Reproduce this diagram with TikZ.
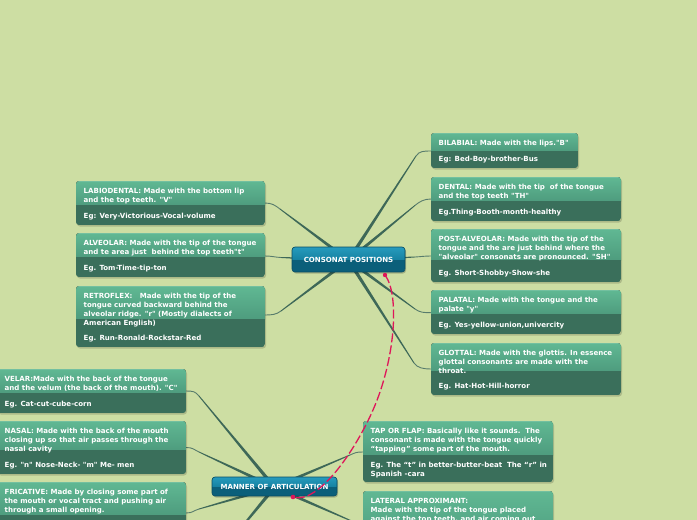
\documentclass[tikz,border=0pt]{standalone}
\usepackage{fontspec}
\setmainfont{DejaVu Sans}
\usetikzlibrary{calc}
\newcommand\qd{\textquotedbl}
\definecolor{bgc}{RGB}{205,222,163}
\definecolor{cardtop}{RGB}{96,184,147}
\definecolor{cardmid}{RGB}{78,156,126}
\definecolor{carddark}{RGB}{58,111,91}
\definecolor{topiclight}{RGB}{38,155,189}
\definecolor{topicmid}{RGB}{22,130,162}
\definecolor{topicdark}{RGB}{11,95,122}
\definecolor{topicborder}{RGB}{8,76,100}
\definecolor{branchc}{RGB}{62,104,88}
\definecolor{twigc}{RGB}{88,124,108}
\definecolor{linkc}{RGB}{222,22,90}
\pgfdeclarelayer{bg}\pgfdeclarelayer{conn}\pgfsetlayers{bg,conn,main}
\tikzset{
 cardtxt/.style={font=\fontsize{7.05}{8.8}\selectfont\bfseries, text=white, inner sep=0pt, align=left},
 topictxt/.style={font=\fontsize{7.05}{8.8}\selectfont\bfseries, text=white, inner sep=0pt},
 branch/.style={fill=branchc},
 twig/.style={draw=twigc, line width=0.9pt},
 linkline/.style={draw=linkc, line width=1.3pt, dash pattern=on 9pt off 3pt},
 cardshadow/.style={fill=black, opacity=0.16},
}
% #1 name #2 x1 #3 y1 #4 x2 #5 ysplit #6 y2 #7 top text #8 bottom text
\newcommand\card[8]{%
 \fill[cardshadow, rounded corners=3pt] ({#2+1},{#3+1.5}) rectangle ({#4+1},{#6+1.5});
 \begin{scope}
  \clip[rounded corners=3pt] (#2,#3) rectangle (#4,#6);
  \fill[top color=cardtop, bottom color=cardmid] (#2,#3) rectangle (#4,#5);
  \fill[carddark] (#2,#5) rectangle (#4,#6);
  \fill[white, opacity=0.12] (#2,#3) rectangle (#4,{#3+1});
 \end{scope}
 \node[cardtxt, anchor=north west] (#1-top) at ({#2+7.5},{#3+7.2}) {#7};
 \node[cardtxt, anchor=base west] (#1-eg) at ({#2+7.5},{#6-6.5}) {#8};
}
% #1 name #2 x1 #3 y1 #4 x2 #5 y2 #6 text
\newcommand\topic[6]{%
 \fill[black, opacity=0.2, rounded corners=3pt] ({#2+1},{#3+1.5}) rectangle ({#4+1},{#5+1.5});
 \begin{scope}
  \clip[rounded corners=3pt] (#2,#3) rectangle (#4,#5);
  \fill[top color=topiclight, bottom color=topicmid] (#2,#3) rectangle (#4,{(#3+#5)/2});
  \fill[topicdark] (#2,{(#3+#5)/2}) rectangle (#4,#5);
 \end{scope}
 \draw[topicborder, rounded corners=3pt, line width=0.6pt] (#2,#3) rectangle (#4,#5);
 \node[topictxt] (#1) at ({(#2+#4)/2},{(#3+#5)/2+0.8}) {#6};
}
\newcommand\taper[4]{%
 \fill[branch] ($(#1)!#3!90:(#2)$) -- ($(#2)!#4!-90:(#1)$) -- ($(#2)!#4!90:(#1)$) -- ($(#1)!#3!-90:(#2)$) -- cycle;}
% #1 from node #2 name #3 bend point #4 attach point #5 ctrl offset
\newcommand\branchto[5]{%
 \coordinate (#2-p) at (#3); \coordinate (#2-in) at (#4);
 \taper{#1.center}{#2-p}{1.8pt}{0.45pt}
 \draw[twig] (#2-p) .. controls ($(#2-p)!-6pt!(#1.center)$) and ($(#2-in)+(#5,0)$) .. (#2-in);
}
\begin{document}
\begin{tikzpicture}[x=1pt,y=-1pt]
\useasboundingbox (0,0) rectangle (697,520);
\begin{pgfonlayer}{bg}
\fill[bgc] (0,0) rectangle (697,520);
\end{pgfonlayer}

% topics
\topic{cp}{292}{247}{405}{272}{CONSONAT POSITIONS}
\topic{moa}{212}{477}{337}{496}{MANNER OF ARTICULATION}

% right cards
\card{bilabial}{431}{133}{578}{151}{168}{BILABIAL: Made with the lips.\qd B\qd}{Eg: Bed-Boy-brother-Bus}
\card{dental}{431}{177}{621}{201}{221}{DENTAL: Made with the tip\ \ of the tongue\\and the top teeth \qd TH\qd}{Eg.Thing-Booth-month-healthy}
\card{postalv}{431}{229}{621}{260}{282}{POST-ALVEOLAR: Made with the tip of the\\tongue and the are just behind where the\\\qd alveolar\qd{} consonats are pronounced. \qd SH\qd}{Eg. Short-Shobby-Show-she}
\card{palatal}{431}{290}{621}{314}{334}{PALATAL: Made with the tongue and the\\palate \qd y\qd}{Eg. Yes-yellow-union,univercity}
\card{glottal}{431}{343}{621}{371}{395}{GLOTTAL: Made with the glottis. In essence\\glottal consonants are made with the\\throat.}{Eg. Hat-Hot-Hill-horror}

% left cards
\card{labio}{76}{181}{265}{205}{225}{LABIODENTAL: Made with the bottom lip\\and the top teeth. \qd V\qd}{Eg: Very-Victorious-Vocal-volume}
\card{alveolar}{76}{233}{265}{257}{277}{ALVEOLAR: Made with the tip of the tongue\\and te area just\ \ behind the top teeth\qd t\qd}{Eg. Tom-Time-tip-ton}
\card{retroflex}{76}{286}{265}{319}{347}{RETROFLEX:\ \ \ Made with the tip of the\\tongue curved backward behind the\\alveolar ridge. \qd r\qd{} (Mostly dialects of\\American English)}{Eg. Run-Ronald-Rockstar-Red}

% manner cards
\card{velar}{-3}{369}{186}{393}{413}{VELAR:Made with the back of the tongue\\and the velum (the back of the mouth). \qd C\qd}{Eg. Cat-cut-cube-corn}
\card{nasal}{-3}{421}{186}{450}{474}{NASAL: Made with the back of the mouth\\closing up so that air passes through the\\nasal cavity}{Eg. \qd n\qd{} Nose-Neck- \qd m\qd{} Me- men}
\card{fricative}{-3}{482}{186}{515}{540}{FRICATIVE: Made by closing some part of\\the mouth or vocal tract and pushing air\\through a small opening.}{}
\card{tap}{363}{421}{553}{455}{482}{TAP OR FLAP: Basically like it sounds.\ \ The\\consonant is made with the tongue quickly\\“tapping” some part of the mouth.}{}
\node[cardtxt, anchor=north west] (tap-eg2) at (370.5,462.2) {Eg. The “t” in better-butter-beat\ \ The “r” in\\Spanish -cara};
\card{lateral}{363}{491}{553}{545}{550}{LATERAL APPROXIMANT:\\Made with the tip of the tongue placed\\against the top teeth, and air coming out}{}

% connectors
\begin{pgfonlayer}{conn}
\branchto{cp}{bilabial}{416,156}{431,151}{-7}
\branchto{cp}{dental}{415,205.4}{431,199}{-7}
\branchto{cp}{postalv}{415,257}{431,256}{-7}
\branchto{cp}{palatal}{415,309}{431,312.7}{-7}
\branchto{cp}{glottal}{414,363}{431,369}{-7}
\branchto{cp}{labio}{280,209}{265,203}{7}
\branchto{cp}{alveolar}{281,257.5}{265,256}{7}
\branchto{cp}{retroflex}{281,311}{265,315}{7}
\branchto{moa}{velar}{199,396}{186,391}{7}
\branchto{moa}{nasal}{199,452}{186,447.5}{7}
\branchto{moa}{fricative}{199,509}{186,513}{7}
\branchto{moa}{tap}{350,455}{363,452}{-7}
\branchto{moa}{lateral}{355,522.5}{363,525}{-7}
\coordinate (down-end) at (236,534);
\taper{moa.center}{down-end}{1.8pt}{0.8pt}
\end{pgfonlayer}

% relationship link
\coordinate (link-s) at (385,275);
\coordinate (link-e) at (293,497);
\draw[linkline] (link-s) .. controls (400,295) and (395,360) .. (373,410) .. controls (355,451) and (318,505) .. (link-e);
\fill[linkc] (link-s) circle (2.2pt);
\fill[linkc] (link-e) circle (2.3pt);
\end{tikzpicture}
\end{document}
